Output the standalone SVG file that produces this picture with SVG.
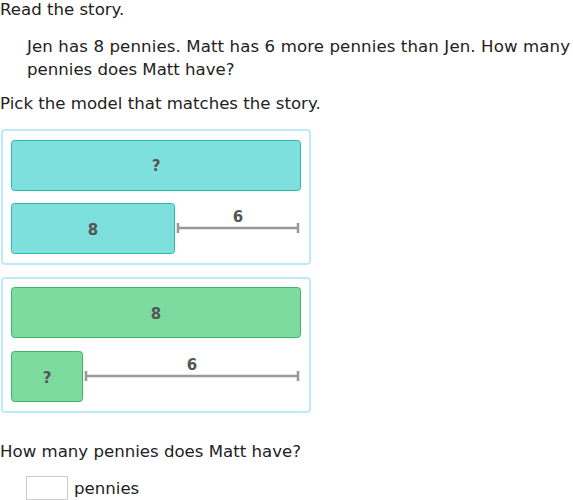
<svg xmlns="http://www.w3.org/2000/svg" width="573" height="500" viewBox="0 0 573 500">
<style>
.t{font-family:"DejaVu Sans","Verdana",sans-serif;font-size:16.6px;fill:#222}
.lbl{font-family:"DejaVu Sans","Verdana",sans-serif;font-size:15px;font-weight:bold;fill:#555;text-anchor:middle}
.panel{fill:#fff;stroke:#bdeafa;stroke-width:2}
.teal{fill:#7ee0dc;stroke:#2cb8ac;stroke-width:1}
.green{fill:#7edba0;stroke:#3cb66b;stroke-width:1}
.dim{stroke:#999;stroke-width:2.5;fill:none}
</style>
<rect width="573" height="500" fill="#fff"/>
<text class="t" x="0" y="15">Read the story.</text>
<text class="t" x="27" y="52" textLength="543" lengthAdjust="spacing">Jen has 8 pennies. Matt has 6 more pennies than Jen. How many</text>
<text class="t" x="27" y="75">pennies does Matt have?</text>
<text class="t" x="0" y="109">Pick the model that matches the story.</text>

<g id="model1">
<rect class="panel" x="2" y="130" width="308" height="134" rx="3"/>
<g id="m1-total"><rect class="teal" x="11.5" y="140.5" width="289" height="50" rx="3"/><text class="lbl" x="156" y="171">?</text></g>
<g id="m1-jen"><rect class="teal" x="11.5" y="203.5" width="163" height="50" rx="3"/><text class="lbl" x="93" y="235">8</text></g>
<g id="m1-diff"><path class="dim" d="M178 223v10M178 228H298M298 223v10"/><text class="lbl" x="238" y="222">6</text></g>
</g>

<g id="model2">
<rect class="panel" x="2" y="278" width="308" height="134" rx="3"/>
<g id="m2-total"><rect class="green" x="11.5" y="287.5" width="289" height="50" rx="3"/><text class="lbl" x="156" y="319">8</text></g>
<g id="m2-part"><rect class="green" x="11.5" y="351.5" width="71" height="50" rx="3"/><text class="lbl" x="47" y="383">?</text></g>
<g id="m2-diff"><path class="dim" d="M86 371v10M86 376H298M298 371v10"/><text class="lbl" x="192" y="370">6</text></g>
</g>

<text class="t" x="0" y="457">How many pennies does Matt have?</text>
<rect x="26.5" y="476.5" width="41" height="23" fill="#fff" stroke="#ccc"/>
<text class="t" x="74" y="494">pennies</text>
</svg>
